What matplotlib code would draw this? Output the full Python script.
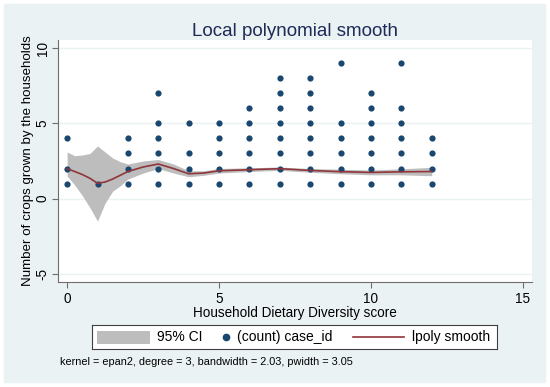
import numpy as np
import matplotlib
matplotlib.use('Agg')
from matplotlib import pyplot as plt
from matplotlib.patches import Rectangle

plt.rcParams['font.family'] = ['Liberation Sans', 'DejaVu Sans']

# scatter data: (count) case_id by dietary diversity score
hdds = [0, 0, 0,
        1,
        2, 2, 2, 2,
        3, 3, 3, 3, 3, 3,
        4, 4, 4, 4,
        5, 5, 5, 5, 5,
        6, 6, 6, 6, 6, 6,
        7, 7, 7, 7, 7, 7, 7, 7,
        8, 8, 8, 8, 8, 8, 8, 8,
        9, 9, 9, 9, 9, 9,
        10, 10, 10, 10, 10, 10, 10,
        11, 11, 11, 11, 11, 11, 11,
        12, 12, 12, 12]
crops = [1, 2, 4,
         1,
         1, 2, 3, 4,
         1, 2, 3, 4, 5, 7,
         1, 2, 3, 5,
         1, 2, 3, 4, 5,
         1, 2, 3, 4, 5, 6,
         1, 2, 3, 4, 5, 6, 7, 8,
         1, 2, 3, 4, 5, 6, 7, 8,
         1, 2, 3, 4, 5, 9,
         1, 2, 3, 4, 5, 6, 7,
         1, 2, 3, 4, 5, 6, 9,
         1, 2, 3, 4]

# lpoly smooth and 95% CI
grid_x = [0, 0.25, 0.5, 0.75, 1.0, 1.25, 1.5, 1.75, 2, 2.5, 3, 3.5, 4, 4.5,
          5, 6, 7, 8, 9, 10, 11, 12]
smooth = [1.99, 1.8, 1.6, 1.35, 1.02, 1.1, 1.3, 1.55, 1.8, 2.1, 2.3, 2.0, 1.65, 1.7,
          1.85, 1.92, 1.99, 1.87, 1.79, 1.74, 1.78, 1.8]
ci_hi = [3.1, 2.85, 2.9, 3.0, 3.5, 3.1, 2.7, 2.45, 2.3, 2.5, 2.6, 2.3, 1.85, 1.85,
         2.0, 2.05, 2.1, 2.0, 1.95, 1.9, 1.98, 2.08]
ci_lo = [1.5, 0.9, 0.2, -0.6, -1.5, -0.3, 0.5, 0.85, 1.3, 1.7, 2.0, 1.7, 1.45, 1.55,
         1.7, 1.8, 1.88, 1.75, 1.65, 1.58, 1.58, 1.52]

legend_labels = ['95% CI', '(count) case_id', 'lpoly smooth']

navy = '#1a476f'
maroon = '#90353b'
ci_grey = '#bdbdbd'
panel = '#eaf2f3'
W, H = 550, 387

fig = plt.figure(figsize=(5.5, 3.87), dpi=100)
fig.patches.append(Rectangle((4 / W, 5 / H), 541 / W, 378 / H,
                             transform=fig.transFigure, color=panel, zorder=-5))

ax = fig.add_axes([58 / W, 1 - 282 / H, 474 / W, 242 / H])
ax.set_facecolor('white')
ax.fill_between(grid_x, ci_lo, ci_hi, color=ci_grey, linewidth=0, zorder=2)
ax.scatter(hdds, crops, s=20, color=navy, zorder=3, linewidths=0)
ax.plot(grid_x, smooth, color=maroon, linewidth=1.2, zorder=4)

ax.set_xlim(-0.3, 15.3)
ax.set_ylim(-5.55, 10.55)
ax.set_xticks([0, 5, 10, 15])
ax.set_yticks([-5, 0, 5, 10])
ax.set_yticklabels(['-5', '0', '5', '10'], rotation=90, va='center')
for y in [-5, 0, 5, 10]:
    ax.axhline(y, color=panel, linewidth=1, zorder=1)

for side in ['top', 'right']:
    ax.spines[side].set_visible(False)
for side in ['left', 'bottom']:
    ax.spines[side].set_color('#6e6e6e')
ax.tick_params(direction='out', length=4, color='#6e6e6e', labelsize=9.75)
ax.tick_params(axis='x', pad=3)
ax.tick_params(axis='y', pad=2)

ax.set_xlabel('Household Dietary Diversity score', fontsize=9.75, labelpad=0)
ax.set_ylabel('Number of crops grown by the households', fontsize=9.6, labelpad=1)
ax.set_title('Local polynomial smooth', fontsize=13.5, color='#1e2a57', pad=3)

# legend box drawn by hand (Stata style key spacing)
lax = fig.add_axes([92 / W, 1 - 349 / H, 405 / W, 24 / H])
lax.set_xlim(0, 405)
lax.set_ylim(0, 24)
lax.set_xticks([])
lax.set_yticks([])
for s in lax.spines.values():
    s.set_color('#404040')
    s.set_linewidth(0.8)
lax.add_patch(Rectangle((5, 5), 53, 13.5, color=ci_grey, linewidth=0))
lax.text(65, 12, legend_labels[0], fontsize=10, va='center', ha='left')
lax.plot([134], [12], 'o', color=navy, markersize=4.5)
lax.text(145, 12, legend_labels[1], fontsize=10, va='center', ha='left')
lax.plot([261, 312], [12, 12], color=maroon, linewidth=1.2)
lax.text(320, 12, legend_labels[2], fontsize=10, va='center', ha='left')

fig.text(60 / W, 1 - 362 / H,
         'kernel = epan2, degree = 3, bandwidth = 2.03, pwidth = 3.05',
         fontsize=7.8, va='center', ha='left')

fig.savefig('out.png', dpi=100)
